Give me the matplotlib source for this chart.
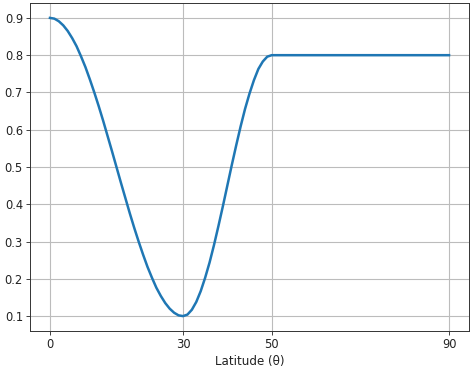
import matplotlib
matplotlib.use("Agg")
import matplotlib.pyplot as plt

# latitude (deg) and value
lat = list(range(0, 51)) + [90]
val = [0.900, 0.898, 0.891, 0.880, 0.865, 0.846, 0.824, 0.797, 0.768, 0.735,
       0.700, 0.663, 0.624, 0.583, 0.542, 0.500, 0.458, 0.417, 0.376, 0.337,
       0.300, 0.265, 0.232, 0.203, 0.176, 0.154, 0.135, 0.120, 0.109, 0.102,
       0.100, 0.104, 0.117, 0.138, 0.167, 0.203, 0.244, 0.291, 0.342, 0.395,
       0.450, 0.505, 0.558, 0.609, 0.656, 0.697, 0.733, 0.763, 0.783, 0.796,
       0.800, 0.800]
xticks = [0, 30, 50, 90]
yticks = [0.1, 0.2, 0.3, 0.4, 0.5, 0.6, 0.7, 0.8, 0.9]

fig = plt.figure(figsize=(4.74, 3.70), dpi=100)
ax = fig.add_axes([30 / 474, 39 / 370, 439 / 474, 328 / 370])
ax.plot(lat, val, color="#1f77b4", lw=1.8)
ax.set_xlim(-4.5, 94.5)
ax.set_ylim(0.06, 0.94)
ax.set_xticks(xticks)
ax.set_yticks(yticks)
ax.set_yticklabels([f"{t:.1f}" for t in yticks])
ax.grid(True, color="#bcbcbc", lw=0.8)
ax.tick_params(labelsize=8.3, length=2.6, width=0.6, pad=2.5, colors="#222222")
for s in ax.spines.values():
    s.set_linewidth(0.7)
    s.set_color("#333333")
ax.set_xlabel("Latitude (θ)", fontsize=8.6, labelpad=3, color="#222222")

fig.savefig("out.png", dpi=100)
